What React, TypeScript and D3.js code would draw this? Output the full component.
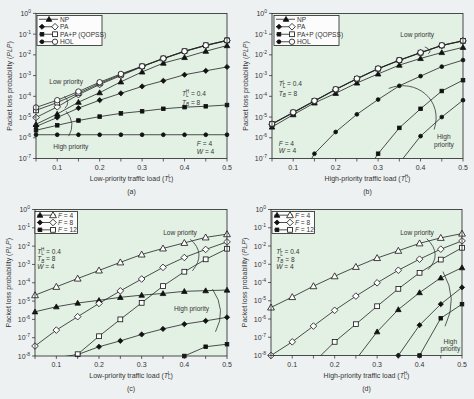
import React from 'react';
import * as d3 from 'd3';

// traffic loads on the x axis
const loads = [0.05, 0.1, 0.15, 0.2, 0.25, 0.3, 0.35, 0.4, 0.45, 0.5];
const xTicks = [0.1, 0.2, 0.3, 0.4, 0.5];
const xMinor = [0.05, 0.15, 0.25, 0.35, 0.45];

// (a) PLP vs low-priority load
const aNP = [4.5e-6, 1.4e-5, 5.2e-5, 1.5e-4, 5e-4, 1.5e-3, 4e-3, 7.5e-3, 1.5e-2, 2.8e-2];
const aPAHigh = [3.5e-6, 9.5e-6, 2.7e-5, 6.5e-5, 1.4e-4, 3e-4, 5.6e-4, 1.1e-3, 1.7e-3, 2.6e-3];
const aPAPHigh = [2.3e-6, 4e-6, 6.8e-6, 1.05e-5, 1.5e-5, 1.9e-5, 2.5e-5, 3e-5, 3.3e-5, 3.8e-5];
const aHOLHigh = [1.4e-6, 1.4e-6, 1.4e-6, 1.4e-6, 1.4e-6, 1.4e-6, 1.4e-6, 1.4e-6, 1.4e-6, 1.4e-6];
const aPALow = [9.5e-6, 3.1e-5, 1.2e-4, 3.7e-4, 1e-3, 2.7e-3, 6.5e-3, 1.45e-2, 2.8e-2, 4.8e-2];
const aPAPLow = [2.1e-5, 5e-5, 1.4e-4, 4.2e-4, 1.1e-3, 2.8e-3, 6.7e-3, 1.5e-2, 2.9e-2, 5e-2];
const aHOLLow = [2.9e-5, 6.5e-5, 1.7e-4, 4.8e-4, 1.2e-3, 2.8e-3, 6.7e-3, 1.5e-2, 2.9e-2, 5e-2];

// (b) PLP vs high-priority load
const bNP = [3.3e-6, 1.3e-5, 4.8e-5, 1.4e-4, 4.4e-4, 1.2e-3, 3.2e-3, 6.7e-3, 1.3e-2, 2.3e-2];
const bPALow = [4.5e-6, 1.6e-5, 5.8e-5, 2.1e-4, 6.9e-4, 2.1e-3, 5.4e-3, 1.25e-2, 2.8e-2, 4.7e-2];
const bPAPLow = [4.6e-6, 1.65e-5, 6e-5, 2.15e-4, 7e-4, 2.15e-3, 5.5e-3, 1.27e-2, 2.85e-2, 4.75e-2];
const bHOLLow = [4.7e-6, 1.7e-5, 6.1e-5, 2.2e-4, 7.2e-4, 2.2e-3, 5.6e-3, 1.3e-2, 2.9e-2, 4.8e-2];
const bPAHigh = [null, 3e-9, 1.7e-7, 1.9e-6, 1.35e-5, 7e-5, 3.2e-4, 9.4e-4, 2.7e-3, 5.6e-3];
const bPAPHigh = [null, null, null, null, 5e-9, 1.7e-7, 3e-6, 2.5e-5, 1.8e-4, 6e-4];
const bHOLHigh = [null, null, null, null, null, null, 6e-8, 1.2e-6, 1e-5, 6.5e-5];

// (c) PLP vs low-priority load for F = 4, 8, 12
const cF4Low = [2.1e-5, 6e-5, 1.7e-4, 4.7e-4, 1.3e-3, 3.5e-3, 7.5e-3, 1.5e-2, 3e-2, 4.5e-2];
const cF4High = [2.6e-6, 4.9e-6, 7.8e-6, 1.1e-5, 1.6e-5, 2.1e-5, 2.6e-5, 3.4e-5, 3.7e-5, 4e-5];
const cF8Low = [3.5e-8, 2.6e-7, 1.4e-6, 7.4e-6, 3.6e-5, 1.6e-4, 6.9e-4, 2.4e-3, 6.6e-3, 1.7e-2];
const cF8High = [null, 8e-9, 1.2e-8, 3.2e-8, 6.7e-8, 1.5e-7, 3e-7, 5.5e-7, 8.3e-7, 1.3e-6];
const cF12Low = [null, 1e-9, 1.25e-8, 1.2e-7, 1e-6, 8e-6, 6.6e-5, 4e-4, 1.9e-3, 7.2e-3];
const cF12High = [null, null, null, null, null, null, 1e-9, 1e-8, 3.2e-8, 4.4e-8];

// (d) PLP vs high-priority load for F = 4, 8, 12
const dF4Low = [4.3e-6, 1.6e-5, 6.3e-5, 2.2e-4, 7.2e-4, 2.2e-3, 5.5e-3, 1.4e-2, 2.8e-2, 4.8e-2];
const dF8Low = [1e-8, 5.6e-8, 4.1e-7, 3e-6, 1.8e-5, 9.6e-5, 4.7e-4, 1.9e-3, 6.7e-3, 1.9e-2];
const dF12Low = [null, null, 4e-9, 5.6e-8, 5.2e-7, 5e-6, 4.5e-5, 3.4e-4, 1.8e-3, 8e-3];
const dF4High = [null, null, null, null, 6e-9, 2e-7, 3.3e-6, 2.8e-5, 1.8e-4, 6.5e-4];
const dF8High = [null, null, null, null, null, null, 1e-8, 4.6e-7, 6.5e-6, 5.4e-5];
const dF12High = [null, null, null, null, null, null, null, 1e-8, 1.1e-6, 6.5e-6];

const FONT = '"Liberation Sans", Arial, Helvetica, sans-serif';
const INK = '#222';
const TXT = '#333';
const PAGE_BG = '#eef1f2';
const PLOT_BG = '#e3f1e5';

type Shape = 'tri' | 'dia' | 'sq' | 'circ';
type Series = { values: (number | null)[]; shape: Shape; filled: boolean };

function Marker({ shape, filled, x, y }: { shape: Shape; filled: boolean; x: number; y: number }) {
  const fill = filled ? '#111' : '#fff';
  const common = { fill, stroke: '#111', strokeWidth: 0.8 };
  if (shape === 'circ') return <circle cx={x} cy={y} r={filled ? 1.9 : 2.7} {...common} />;
  if (shape === 'sq') {
    const s = filled ? 3.6 : 4.8;
    return <rect x={x - s / 2} y={y - s / 2} width={s} height={s} {...common} />;
  }
  if (shape === 'dia') {
    const s = filled ? 2.6 : 3.3;
    return <path d={`M${x},${y - s}L${x + s},${y}L${x},${y + s}L${x - s},${y}Z`} {...common} />;
  }
  const s = filled ? 2.8 : 3.4;
  return <path d={`M${x},${y - s}L${x + s},${y + s * 0.75}L${x - s},${y + s * 0.75}Z`} {...common} />;
}

type TextNote = { x: number; lg: number; kind: 'plain' | 'TLH' | 'TLL' | 'TB' | 'F' | 'W'; text?: string; anchor?: string };
type Panel = {
  tag: string;
  x0: number; x1: number; yTop: number; yBot: number; minExp: number;
  axis: 'L' | 'H';
  series: Series[];
  legend: { label: string; italicF?: boolean; shape: Shape; both: boolean }[];
  legendBox: [number, number, number, number];
  notes: TextNote[];
  brackets: [number, number][][];
};

function Sym({ kind }: { kind: string }) {
  // T with stacked subscript/superscript, e.g. T_L^H
  if (kind === 'TLH' || kind === 'TLL') {
    const sup = kind === 'TLH' ? 'H' : 'L';
    return (
      <>
        <tspan fontStyle="italic">T</tspan>
        <tspan fontSize={4.6} dy={1.4}>L</tspan>
        <tspan fontSize={4.6} dx={-2.8} dy={-4}>{sup}</tspan>
        <tspan dy={2.6}>{' = 0.4'}</tspan>
      </>
    );
  }
  if (kind === 'TB')
    return (
      <>
        <tspan fontStyle="italic">T</tspan>
        <tspan fontSize={4.6} fontStyle="italic" dy={1.4}>B</tspan>
        <tspan dy={-1.4}>{' = 8'}</tspan>
      </>
    );
  if (kind === 'F')
    return (
      <>
        <tspan fontStyle="italic">F</tspan>
        <tspan>{' = 4'}</tspan>
      </>
    );
  return (
    <>
      <tspan fontStyle="italic">W</tspan>
      <tspan>{' = 4'}</tspan>
    </>
  );
}

function ChartPanel({ p }: { p: Panel }) {
  const x = d3.scaleLinear().domain([0.05, 0.5]).range([p.x0, p.x1]);
  const y = d3.scaleLog().domain([10 ** p.minExp, 1]).range([p.yBot, p.yTop]);
  const line = d3
    .line<[number, number | null]>()
    .defined(d => d[1] != null)
    .x(d => x(d[0]))
    .y(d => y(d[1] as number));
  const exps = d3.range(0, p.minExp - 1, -1);
  const clipId = `clip-${p.tag}`;
  const midX = (p.x0 + p.x1) / 2;
  const midY = (p.yTop + p.yBot) / 2;
  const [lx, ly, lw, lh] = p.legendBox;
  const rowH = lh / p.legend.length;

  return (
    <g fontFamily={FONT} fill={TXT}>
      <defs>
        <clipPath id={clipId}>
          <rect x={p.x0} y={p.yTop} width={p.x1 - p.x0} height={p.yBot - p.yTop} />
        </clipPath>
      </defs>
      <rect x={p.x0} y={p.yTop} width={p.x1 - p.x0} height={p.yBot - p.yTop} fill={PLOT_BG} />

      {/* curves */}
      <g clipPath={`url(#${clipId})`}>
        {p.series.map((s, i) => (
          <path
            key={i}
            d={line(loads.map((l, j) => [l, s.values[j]] as [number, number | null])) || ''}
            fill="none"
            stroke={INK}
            strokeWidth={0.8}
          />
        ))}
      </g>

      {/* brackets */}
      {p.brackets.map((b, i) => {
        const pts = b.map(([lx2, lg]) => [x(lx2), y(10 ** lg)]);
        const d =
          pts.length === 3
            ? `M${pts[0][0]},${pts[0][1]}Q${pts[1][0]},${pts[1][1]} ${pts[2][0]},${pts[2][1]}`
            : `M${pts[0][0]},${pts[0][1]}C${pts[1][0]},${pts[1][1]} ${pts[2][0]},${pts[2][1]} ${pts[3][0]},${pts[3][1]}`;
        return <path key={i} d={d} fill="none" stroke="#333" strokeWidth={0.8} />;
      })}

      {/* markers */}
      {p.series.map((s, i) =>
        loads.map((l, j) => {
          const v = s.values[j];
          if (v == null || v < 10 ** p.minExp * 0.97) return null;
          return <Marker key={`${i}-${j}`} shape={s.shape} filled={s.filled} x={x(l)} y={y(v)} />;
        })
      )}

      {/* frame */}
      <rect x={p.x0} y={p.yTop} width={p.x1 - p.x0} height={p.yBot - p.yTop} fill="none" stroke={INK} strokeWidth={0.8} />

      {/* y ticks */}
      {exps.map(e => (
        <g key={e}>
          <line x1={p.x0 - 3} x2={p.x0} y1={y(10 ** e)} y2={y(10 ** e)} stroke={INK} strokeWidth={0.7} />
          <text x={p.x0 - 5} y={y(10 ** e) + 2.5} fontSize={7} textAnchor="end">
            10
            <tspan fontSize={5} dy={-3}>
              {e === 0 ? '0' : `-${-e}`}
            </tspan>
          </text>
        </g>
      ))}

      {/* x ticks */}
      {xMinor.map(t => (
        <line key={t} x1={x(t)} x2={x(t)} y1={p.yBot} y2={p.yBot + 3} stroke={INK} strokeWidth={0.7} />
      ))}
      {xTicks.map(t => (
        <g key={t}>
          <line x1={x(t)} x2={x(t)} y1={p.yBot} y2={p.yBot + 3} stroke={INK} strokeWidth={0.7} />
          <text x={x(t)} y={p.yBot + 11} fontSize={7} textAnchor="middle">
            {t.toFixed(1)}
          </text>
        </g>
      ))}

      {/* axis titles */}
      <text x={midX} y={p.yBot + 22} fontSize={7} textAnchor="middle">
        {p.axis === 'L' ? 'Low-priority traffic load (' : 'High-priority traffic load ('}
        <tspan fontStyle="italic">T</tspan>
        <tspan fontSize={4.6} dy={1.4}>L</tspan>
        <tspan fontSize={4.6} dx={-2.8} dy={-4}>{p.axis}</tspan>
        <tspan dy={2.6}>)</tspan>
      </text>
      <text x={midX} y={p.yBot + 35} fontSize={7} textAnchor="middle">
        ({p.tag})
      </text>
      <text
        transform={`translate(${p.x0 - 24},${midY}) rotate(-90)`}
        fontSize={7}
        textAnchor="middle"
      >
        Packet loss probability (<tspan fontStyle="italic">PLP</tspan>)
      </text>

      {/* notes */}
      {p.notes.map((n, i) => (
        <text
          key={i}
          x={x(n.x)}
          y={y(10 ** n.lg) + 2.3}
          fontSize={6.6}
          textAnchor={n.anchor || 'start'}
        >
          {n.kind === 'plain' ? n.text : <Sym kind={n.kind} />}
        </text>
      ))}

      {/* legend */}
      <rect x={lx} y={ly} width={lw} height={lh} fill="#fbfcfb" stroke={INK} strokeWidth={0.8} />
      {p.legend.map((e, i) => {
        const cy = ly + rowH * (i + 0.5);
        const a = lx + 4;
        const b = lx + 18;
        return (
          <g key={i}>
            <line x1={lx + 2} x2={lx + 21} y1={cy} y2={cy} stroke={INK} strokeWidth={0.8} />
            {e.both ? (
              <>
                <Marker shape={e.shape} filled={true} x={a + 1} y={cy} />
                <Marker shape={e.shape} filled={false} x={b} y={cy} />
              </>
            ) : (
              <Marker shape={e.shape} filled={true} x={(a + b) / 2 + 1} y={cy} />
            )}
            <text x={lx + 23} y={cy + 2.4} fontSize={6.6}>
              {e.italicF ? (
                <>
                  <tspan fontStyle="italic">F</tspan>
                  {e.label}
                </>
              ) : (
                e.label
              )}
            </text>
          </g>
        );
      })}
    </g>
  );
}

const legendAB = [
  { label: 'NP', shape: 'tri' as Shape, both: false },
  { label: 'PA', shape: 'dia' as Shape, both: true },
  { label: 'PA+P (QOPSS)', shape: 'sq' as Shape, both: true },
  { label: 'HOL', shape: 'circ' as Shape, both: true },
];
const legendCD = [
  { label: ' = 4', italicF: true, shape: 'tri' as Shape, both: true },
  { label: ' = 8', italicF: true, shape: 'dia' as Shape, both: true },
  { label: ' = 12', italicF: true, shape: 'sq' as Shape, both: true },
];

const panels: Panel[] = [
  {
    tag: 'a', x0: 36, x1: 227, yTop: 13.4, yBot: 158.5, minExp: -7, axis: 'L',
    series: [
      { values: aHOLHigh, shape: 'circ', filled: true },
      { values: aPAPHigh, shape: 'sq', filled: true },
      { values: aPAHigh, shape: 'dia', filled: true },
      { values: aNP, shape: 'tri', filled: true },
      { values: aPALow, shape: 'dia', filled: false },
      { values: aPAPLow, shape: 'sq', filled: false },
      { values: aHOLLow, shape: 'circ', filled: false },
    ],
    legend: legendAB,
    legendBox: [37, 15.5, 65, 30],
    notes: [
      { x: 0.121, lg: -3.31, kind: 'plain', text: 'Low priority', anchor: 'middle' },
      { x: 0.132, lg: -6.41, kind: 'plain', text: 'High priority', anchor: 'middle' },
      { x: 0.394, lg: -3.85, kind: 'TLH' },
      { x: 0.394, lg: -4.3, kind: 'TB' },
      { x: 0.429, lg: -6.31, kind: 'F' },
      { x: 0.429, lg: -6.66, kind: 'W' },
    ],
    brackets: [
      [[0.117, -4.0], [0.132, -4.3], [0.118, -4.58]],
      [[0.121, -4.72], [0.145, -5.3], [0.127, -5.92]],
    ],
  },
  {
    tag: 'b', x0: 272, x1: 463, yTop: 13.4, yBot: 158.5, minExp: -7, axis: 'H',
    series: [
      { values: bHOLHigh, shape: 'circ', filled: true },
      { values: bPAPHigh, shape: 'sq', filled: true },
      { values: bPAHigh, shape: 'circ', filled: true },
      { values: bNP, shape: 'tri', filled: true },
      { values: bPALow, shape: 'dia', filled: false },
      { values: bPAPLow, shape: 'sq', filled: false },
      { values: bHOLLow, shape: 'circ', filled: false },
    ],
    legend: legendAB,
    legendBox: [274, 15.5, 65, 30],
    notes: [
      { x: 0.392, lg: -1.04, kind: 'plain', text: 'Low priority', anchor: 'middle' },
      { x: 0.066, lg: -3.41, kind: 'TLL' },
      { x: 0.066, lg: -3.87, kind: 'TB' },
      { x: 0.066, lg: -6.31, kind: 'F' },
      { x: 0.066, lg: -6.64, kind: 'W' },
      { x: 0.455, lg: -5.97, kind: 'plain', text: 'High', anchor: 'middle' },
      { x: 0.455, lg: -6.33, kind: 'plain', text: 'priority', anchor: 'middle' },
    ],
    brackets: [
      [[0.41, -1.62], [0.43, -1.78], [0.418, -1.95]],
      [[0.325, -3.62], [0.39, -3.1], [0.455, -4.2], [0.432, -5.6]],
    ],
  },
  {
    tag: 'c', x0: 35, x1: 227, yTop: 209.5, yBot: 356, minExp: -8, axis: 'L',
    series: [
      { values: cF12High, shape: 'sq', filled: true },
      { values: cF8High, shape: 'dia', filled: true },
      { values: cF4High, shape: 'tri', filled: true },
      { values: cF12Low, shape: 'sq', filled: false },
      { values: cF8Low, shape: 'dia', filled: false },
      { values: cF4Low, shape: 'tri', filled: false },
    ],
    legend: legendCD,
    legendBox: [35, 211.5, 42.5, 22],
    notes: [
      { x: 0.39, lg: -1.27, kind: 'plain', text: 'Low priority', anchor: 'middle' },
      { x: 0.055, lg: -2.28, kind: 'TLH' },
      { x: 0.055, lg: -2.71, kind: 'TB' },
      { x: 0.055, lg: -3.12, kind: 'W' },
      { x: 0.417, lg: -5.4, kind: 'plain', text: 'High priority', anchor: 'middle' },
    ],
    brackets: [
      [[0.414, -1.62], [0.452, -2.4], [0.419, -3.35]],
      [[0.466, -4.35], [0.5, -5.5], [0.473, -6.68]],
    ],
  },
  {
    tag: 'd', x0: 271, x1: 462, yTop: 209.5, yBot: 355.5, minExp: -8, axis: 'H',
    series: [
      { values: dF12High, shape: 'sq', filled: true },
      { values: dF8High, shape: 'dia', filled: true },
      { values: dF4High, shape: 'tri', filled: true },
      { values: dF12Low, shape: 'sq', filled: false },
      { values: dF8Low, shape: 'dia', filled: false },
      { values: dF4Low, shape: 'tri', filled: false },
    ],
    legend: legendCD,
    legendBox: [272, 211.5, 42.5, 22],
    notes: [
      { x: 0.394, lg: -1.27, kind: 'plain', text: 'Low priority', anchor: 'middle' },
      { x: 0.0625, lg: -2.32, kind: 'TLL' },
      { x: 0.0625, lg: -2.75, kind: 'TB' },
      { x: 0.0625, lg: -3.16, kind: 'W' },
      { x: 0.4725, lg: -7.22, kind: 'plain', text: 'High', anchor: 'middle' },
      { x: 0.4725, lg: -7.62, kind: 'plain', text: 'priority', anchor: 'middle' },
    ],
    brackets: [
      [[0.417, -1.6], [0.455, -2.45], [0.42, -3.3]],
      [[0.455, -3.4], [0.492, -4.9], [0.46, -6.4]],
    ],
  },
];

export default function App() {
  return (
    <svg
      width={474}
      height={399}
      viewBox="0 0 474 399"
      style={{ position: 'absolute', left: 0, top: 0 }}
    >
      <rect width={474} height={399} fill={PAGE_BG} />
      {panels.map(p => (
        <ChartPanel key={p.tag} p={p} />
      ))}
    </svg>
  );
}
